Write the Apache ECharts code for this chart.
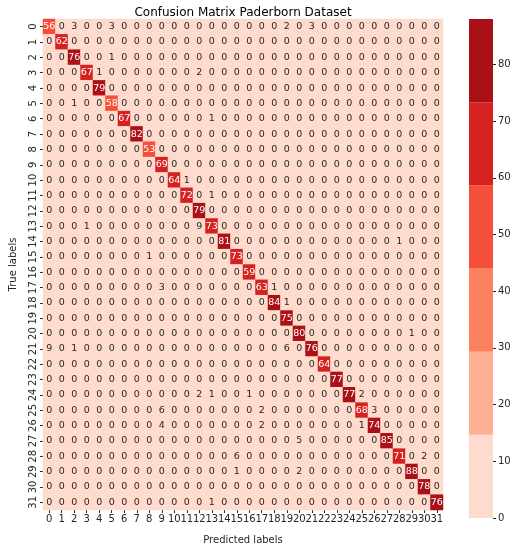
<!DOCTYPE html>
<html>
<head>
<meta charset="utf-8">
<script src="https://cdn.jsdelivr.net/npm/echarts@6/dist/echarts.min.js"></script>
<style>
html,body{margin:0;padding:0;background:#fff;}
#chart{width:517px;height:550px;}
</style>
</head>
<body>
<div id="chart"></div>
<script>
const classLabels = Array.from({length: 32}, (_, i) => String(i));

const confusion = [
  [56,0,3,0,0,3,0,0, 0,0,0,0,0,0,0,0, 0,0,0,2,0,3,0,0, 0,0,0,0,0,0,0,0],
  [0,62,0,0,0,0,0,0, 0,0,0,0,0,0,0,0, 0,0,0,0,0,0,0,0, 0,0,0,0,0,0,0,0],
  [0,0,76,0,0,1,0,0, 0,0,0,0,0,0,0,0, 0,0,0,0,0,0,0,0, 0,0,0,0,0,0,0,0],
  [0,0,0,67,1,0,0,0, 0,0,0,0,2,0,0,0, 0,0,0,0,0,0,0,0, 0,0,0,0,0,0,0,0],
  [0,0,0,0,79,0,0,0, 0,0,0,0,0,0,0,0, 0,0,0,0,0,0,0,0, 0,0,0,0,0,0,0,0],
  [0,0,1,0,0,58,0,0, 0,0,0,0,0,0,0,0, 0,0,0,0,0,0,0,0, 0,0,0,0,0,0,0,0],
  [0,0,0,0,0,0,67,0, 0,0,0,0,0,1,0,0, 0,0,0,0,0,0,0,0, 0,0,0,0,0,0,0,0],
  [0,0,0,0,0,0,0,82, 0,0,0,0,0,0,0,0, 0,0,0,0,0,0,0,0, 0,0,0,0,0,0,0,0],
  [0,0,0,0,0,0,0,0, 53,0,0,0,0,0,0,0, 0,0,0,0,0,0,0,0, 0,0,0,0,0,0,0,0],
  [0,0,0,0,0,0,0,0, 0,69,0,0,0,0,0,0, 0,0,0,0,0,0,0,0, 0,0,0,0,0,0,0,0],
  [0,0,0,0,0,0,0,0, 0,0,64,1,0,0,0,0, 0,0,0,0,0,0,0,0, 0,0,0,0,0,0,0,0],
  [0,0,0,0,0,0,0,0, 0,0,0,72,0,1,0,0, 0,0,0,0,0,0,0,0, 0,0,0,0,0,0,0,0],
  [0,0,0,0,0,0,0,0, 0,0,0,0,79,0,0,0, 0,0,0,0,0,0,0,0, 0,0,0,0,0,0,0,0],
  [0,0,0,1,0,0,0,0, 0,0,0,0,9,73,0,0, 0,0,0,0,0,0,0,0, 0,0,0,0,0,0,0,0],
  [0,0,0,0,0,0,0,0, 0,0,0,0,0,0,81,0, 0,0,0,0,0,0,0,0, 0,0,0,0,1,0,0,0],
  [0,0,0,0,0,0,0,0, 1,0,0,0,0,0,0,73, 0,0,0,0,0,0,0,0, 0,0,0,0,0,0,0,0],
  [0,0,0,0,0,0,0,0, 0,0,0,0,0,0,0,0, 59,0,0,0,0,0,0,0, 0,0,0,0,0,0,0,0],
  [0,0,0,0,0,0,0,0, 0,3,0,0,0,0,0,0, 0,63,1,0,0,0,0,0, 0,0,0,0,0,0,0,0],
  [0,0,0,0,0,0,0,0, 0,0,0,0,0,0,0,0, 0,0,84,1,0,0,0,0, 0,0,0,0,0,0,0,0],
  [0,0,0,0,0,0,0,0, 0,0,0,0,0,0,0,0, 0,0,0,75,0,0,0,0, 0,0,0,0,0,0,0,0],
  [0,0,0,0,0,0,0,0, 0,0,0,0,0,0,0,0, 0,0,0,0,80,0,0,0, 0,0,0,0,0,1,0,0],
  [9,0,1,0,0,0,0,0, 0,0,0,0,0,0,0,0, 0,0,0,6,0,76,0,0, 0,0,0,0,0,0,0,0],
  [0,0,0,0,0,0,0,0, 0,0,0,0,0,0,0,0, 0,0,0,0,0,0,64,0, 0,0,0,0,0,0,0,0],
  [0,0,0,0,0,0,0,0, 0,0,0,0,0,0,0,0, 0,0,0,0,0,0,0,77, 0,0,0,0,0,0,0,0],
  [0,0,0,0,0,0,0,0, 0,0,0,0,2,1,0,0, 1,0,0,0,0,0,0,0, 77,2,0,0,0,0,0,0],
  [0,0,0,0,0,0,0,0, 0,6,0,0,0,0,0,0, 0,2,0,0,0,0,0,0, 0,68,3,0,0,0,0,0],
  [0,0,0,0,0,0,0,0, 0,4,0,0,0,0,0,0, 0,2,0,0,0,0,0,0, 0,1,74,0,0,0,0,0],
  [0,0,0,0,0,0,0,0, 0,0,0,0,0,0,0,0, 0,0,0,0,5,0,0,0, 0,0,0,85,0,0,0,0],
  [0,0,0,0,0,0,0,0, 0,0,0,0,0,0,0,6, 0,0,0,0,0,0,0,0, 0,0,0,0,71,0,2,0],
  [0,0,0,0,0,0,0,0, 0,0,0,0,0,0,0,1, 0,0,0,0,2,0,0,0, 0,0,0,0,0,88,0,0],
  [0,0,0,0,0,0,0,0, 0,0,0,0,0,0,0,0, 0,0,0,0,0,0,0,0, 0,0,0,0,0,0,78,0],
  [0,0,0,0,0,0,0,0, 0,0,0,0,0,1,0,0, 0,0,0,0,0,0,0,0, 0,0,0,0,0,0,0,76]
];

// colour bar: 6 discrete bands of the "Reds" palette from 0 to 88
const bandEdges = [0, 14.667, 29.333, 44, 58.667, 73.333, 88];
const bandColors = ['#fedbcc', '#fcaf93', '#fc8161', '#f44f39', '#d52221', '#aa1016'];
const colorbarTicks = [0, 10, 20, 30, 40, 50, 60, 70, 80];

const FONT = 'DejaVu Sans';
const TXT = '#262626';

const cells = [];
confusion.forEach((row, r) => {
  row.forEach((v, c) => {
    cells.push({
      value: [c, r, v],
      label: { color: v >= bandEdges[3] ? '#ffffff' : TXT }
    });
  });
});

const pieces = bandColors.map((col, i) => ({
  gte: bandEdges[i], lt: i === bandColors.length - 1 ? bandEdges[i + 1] + 1 : bandEdges[i + 1], color: col
}));

const barSeries = bandColors.map((col, i) => ({
  type: 'bar',
  xAxisIndex: 1, yAxisIndex: 1,
  stack: 'cb',
  barWidth: '100%',
  silent: true,
  itemStyle: { color: col },
  data: [bandEdges[i + 1] - bandEdges[i]]
}));

const chart = echarts.init(document.getElementById('chart'), null, { renderer: 'canvas' });
chart.setOption({
  animation: false,
  backgroundColor: '#ffffff',
  textStyle: { fontFamily: FONT },
  title: {
    text: 'Confusion Matrix Paderborn Dataset',
    left: 238, top: 2, textAlign: 'center',
    textStyle: { fontFamily: FONT, fontSize: 12, fontWeight: 'normal', color: '#000' }
  },
  grid: [
    { left: 34, top: 19, width: 409, height: 499 },
    { left: 469, top: 19, width: 24, height: 499 }
  ],
  xAxis: [
    {
      type: 'category', gridIndex: 0, data: classLabels,
      name: 'Predicted labels', nameLocation: 'middle', nameGap: 25,
      nameTextStyle: { fontFamily: FONT, fontSize: 10, color: TXT },
      axisLine: { show: false },
      axisTick: { show: true, alignWithLabel: true, length: 3, lineStyle: { color: TXT } },
      axisLabel: { fontFamily: FONT, fontSize: 10, color: TXT, margin: 4, interval: 0 },
      splitLine: { show: false }
    },
    { type: 'category', gridIndex: 1, data: ['cb'], show: false }
  ],
  yAxis: [
    {
      type: 'category', gridIndex: 0, data: classLabels, inverse: true,
      name: 'True labels', nameLocation: 'middle', nameGap: 25, nameRotate: 90,
      nameTextStyle: { fontFamily: FONT, fontSize: 10, color: TXT },
      axisLine: { show: false },
      axisTick: { show: true, alignWithLabel: true, length: 3, lineStyle: { color: TXT } },
      axisLabel: { fontFamily: FONT, fontSize: 10, color: TXT, margin: 5, rotate: 90, interval: 0 },
      splitLine: { show: false }
    },
    {
      type: 'value', gridIndex: 1, min: bandEdges[0], max: bandEdges[bandEdges.length - 1],
      position: 'right',
      axisLine: { show: false },
      splitLine: { show: false },
      axisTick: { show: true, length: 3, lineStyle: { color: TXT }, customValues: colorbarTicks },
      axisLabel: { fontFamily: FONT, fontSize: 10, color: TXT, margin: 5, customValues: colorbarTicks }
    }
  ],
  visualMap: {
    type: 'piecewise', show: false, seriesIndex: 0, dimension: 2,
    pieces: pieces
  },
  series: [
    {
      type: 'heatmap',
      xAxisIndex: 0, yAxisIndex: 0,
      data: cells,
      label: { show: true, fontFamily: FONT, fontSize: 9.5 },
      emphasis: { disabled: true },
      itemStyle: { borderWidth: 0 }
    }
  ].concat(barSeries)
});
</script>
</body>
</html>
